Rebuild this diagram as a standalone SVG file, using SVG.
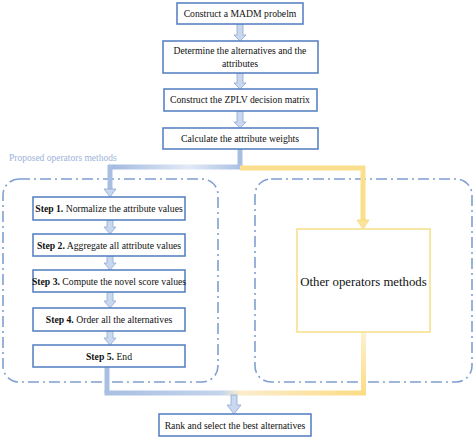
<svg xmlns="http://www.w3.org/2000/svg" width="474" height="439" viewBox="0 0 474 439">
  <defs>
    <linearGradient id="gTop" gradientUnits="userSpaceOnUse" x1="108" y1="0" x2="242" y2="0">
      <stop offset="0" stop-color="#9fb7de"/>
      <stop offset="0.6" stop-color="#e2eaf6"/>
      <stop offset="1" stop-color="#a9bfe2"/>
    </linearGradient>
    <linearGradient id="gBot" gradientUnits="userSpaceOnUse" x1="104" y1="0" x2="366" y2="0">
      <stop offset="0" stop-color="#a9bfe2"/>
      <stop offset="0.45" stop-color="#c5d4ec"/>
      <stop offset="0.52" stop-color="#fbeccb"/>
      <stop offset="1" stop-color="#fbdc83"/>
    </linearGradient>
    <linearGradient id="gVert" gradientUnits="userSpaceOnUse" x1="0" y1="332" x2="0" y2="395">
      <stop offset="0" stop-color="#fdf1cf"/>
      <stop offset="1" stop-color="#fbdc83"/>
    </linearGradient>
  </defs>
  <style>
    .box { fill: #ffffff; stroke: #5b84c4; stroke-width: 1.6; }
    .ybox { fill: #ffffff; stroke: #f7e08e; stroke-width: 1.6; }
    .cont { fill: none; stroke: #7f9fcf; stroke-width: 1.6; stroke-dasharray: 11 4 2 4; }
    text { font-family: 'Liberation Serif', 'DejaVu Serif', serif; }
    .t { font-size: 9.7px; fill: #111111; text-anchor: middle; }
    .b { font-weight: bold; }
    .big { font-size: 12.8px; }
    .lbl { font-size: 9.5px; fill: #9db3da; }
    .arr { fill: #c9d8ef; stroke: #8eaad6; stroke-width: 0.8; }
    .yarr { fill: #fbe59c; stroke: #f6d676; stroke-width: 0.8; }
    .blue { fill: none; stroke: #a9bfe2; stroke-width: 5; }
    .yel { fill: none; stroke: #fbdf8c; stroke-width: 5; }
  </style>

  <!-- containers -->
  <g id="left-container">
    <rect class="cont" x="3" y="179" width="215" height="203" rx="16" ry="16"/>
  </g>
  <g id="right-container">
    <rect class="cont" x="255" y="179" width="217" height="203" rx="16" ry="16"/>
  </g>
  <text class="lbl" x="9" y="161">Proposed operators methods</text>

  <!-- connectors -->
  <g id="connectors">
    <polygon class="arr" points="237,24 243,24 243,35 246,35 240,41 234,35 237,35"/>
    <polygon class="arr" points="237,73 243,73 243,83 246,83 240,89 234,83 237,83"/>
    <polygon class="arr" points="237,111 243,111 243,122 246,122 240,128 234,122 237,122"/>
    <path class="blue" d="M240,149 V167"/>
    <path d="M242,167 H108" fill="none" stroke="url(#gTop)" stroke-width="5"/>
    <path class="blue" d="M110,165 V190"/>
    <polygon class="arr" points="104,189 116,189 110,197"/>
    <path class="yel" d="M240,168 H363 V221"/>
    <polygon class="yarr" points="357,220 369,220 363,229"/>
    <polygon class="arr" points="107,220 113,220 113,227 116,227 110,234 104,227 107,227"/>
    <polygon class="arr" points="107,256 113,256 113,263 116,263 110,270 104,263 107,263"/>
    <polygon class="arr" points="107,292 113,292 113,301 116,301 110,308 104,301 107,301"/>
    <polygon class="arr" points="107,331 113,331 113,338 116,338 110,345 104,338 107,338"/>
    <path class="blue" d="M107,367 V393"/>
    <path d="M104.5,393 H366" fill="none" stroke="url(#gBot)" stroke-width="5"/>
    <path d="M363.5,332 V395" fill="none" stroke="url(#gVert)" stroke-width="5"/>
    <polygon class="arr" points="231,395 237,395 237,405 241,405 234,414 227,405 231,405"/>
  </g>

  <g id="n1">
    <rect class="box" x="177" y="3" width="126" height="21"/>
    <text class="t" x="240" y="17">Construct a MADM probelm</text>
  </g>
  <g id="n2">
    <rect class="box" x="163" y="41" width="155" height="32"/>
    <text class="t" x="240" y="54">Determine the alternatives and the</text>
    <text class="t" x="240" y="66.5">attributes</text>
  </g>
  <g id="n3">
    <rect class="box" x="164" y="89" width="153" height="22"/>
    <text class="t" x="240" y="103">Construct the ZPLV decision matrix</text>
  </g>
  <g id="n4">
    <rect class="box" x="163" y="128" width="155" height="21"/>
    <text class="t" x="240" y="141.5">Calculate the attribute weights</text>
  </g>

  <g id="s1">
    <rect class="box" x="33" y="197" width="152" height="23"/>
    <text class="t" x="109" y="211.5"><tspan class="b">Step 1.</tspan> Normalize the attribute values</text>
  </g>
  <g id="s2">
    <rect class="box" x="33" y="234" width="152" height="22"/>
    <text class="t" x="109" y="248.5"><tspan class="b">Step 2.</tspan> Aggregate all attribute values</text>
  </g>
  <g id="s3">
    <rect class="box" x="33" y="270" width="152" height="22"/>
    <text class="t" x="109" y="284.5"><tspan class="b">Step 3.</tspan> Compute the novel score values</text>
  </g>
  <g id="s4">
    <rect class="box" x="33" y="308" width="152" height="23"/>
    <text class="t" x="109" y="322.5"><tspan class="b">Step 4.</tspan> Order all the alternatives</text>
  </g>
  <g id="s5">
    <rect class="box" x="33" y="345" width="152" height="22"/>
    <text class="t" x="109" y="359.5"><tspan class="b">Step 5.</tspan> End</text>
  </g>

  <g id="other">
    <rect class="ybox" x="297" y="229" width="133" height="103"/>
    <text class="t big" x="363.5" y="285.5">Other operators methods</text>
  </g>

  <g id="final">
    <rect class="box" x="159" y="414" width="152" height="22"/>
    <text class="t" x="235" y="428.5">Rank and select the best alternatives</text>
  </g>
</svg>
